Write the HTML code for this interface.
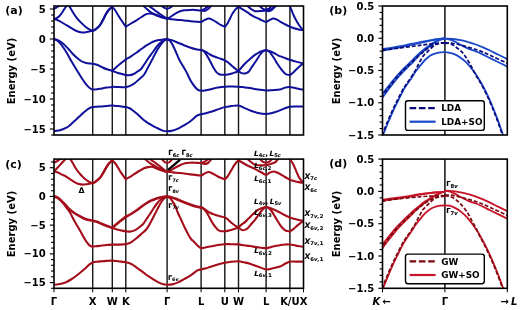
<!DOCTYPE html>
<html><head><meta charset="utf-8"><title>Band structure</title>
<style>html,body{margin:0;padding:0;background:#fff;}svg{display:block;filter:blur(0.35px);}text{font-family:'DejaVu Sans','Liberation Sans',sans-serif;font-weight:bold;fill:#000;}.an{stroke:#000;stroke-width:0.08px;}</style>
</head><body>
<svg width="520" height="310" viewBox="0 0 520 310">
<rect x="0" y="0" width="520" height="310" fill="#fff"/>
<defs>
<clipPath id="ca"><rect x="54" y="6" width="249.5" height="129"/></clipPath>
<clipPath id="cc"><rect x="54" y="159.1" width="249.5" height="129.2"/></clipPath>
<clipPath id="cb"><rect x="382.5" y="6" width="124.8" height="129"/></clipPath>
<clipPath id="cd"><rect x="382.5" y="159.1" width="124.8" height="129.2"/></clipPath>
</defs>
<line x1="92.7" y1="6" x2="92.7" y2="135" stroke="#1a1a1a" stroke-width="1.45"/>
<line x1="92.7" y1="159.1" x2="92.7" y2="288.3" stroke="#1a1a1a" stroke-width="1.45"/>
<line x1="112.3" y1="6" x2="112.3" y2="135" stroke="#1a1a1a" stroke-width="1.45"/>
<line x1="112.3" y1="159.1" x2="112.3" y2="288.3" stroke="#1a1a1a" stroke-width="1.45"/>
<line x1="125.8" y1="6" x2="125.8" y2="135" stroke="#1a1a1a" stroke-width="1.45"/>
<line x1="125.8" y1="159.1" x2="125.8" y2="288.3" stroke="#1a1a1a" stroke-width="1.45"/>
<line x1="167.1" y1="6" x2="167.1" y2="135" stroke="#1a1a1a" stroke-width="1.45"/>
<line x1="167.1" y1="159.1" x2="167.1" y2="288.3" stroke="#1a1a1a" stroke-width="1.45"/>
<line x1="201.1" y1="6" x2="201.1" y2="135" stroke="#1a1a1a" stroke-width="1.45"/>
<line x1="201.1" y1="159.1" x2="201.1" y2="288.3" stroke="#1a1a1a" stroke-width="1.45"/>
<line x1="224.8" y1="6" x2="224.8" y2="135" stroke="#1a1a1a" stroke-width="1.45"/>
<line x1="224.8" y1="159.1" x2="224.8" y2="288.3" stroke="#1a1a1a" stroke-width="1.45"/>
<line x1="238.5" y1="6" x2="238.5" y2="135" stroke="#1a1a1a" stroke-width="1.45"/>
<line x1="238.5" y1="159.1" x2="238.5" y2="288.3" stroke="#1a1a1a" stroke-width="1.45"/>
<line x1="266.1" y1="6" x2="266.1" y2="135" stroke="#1a1a1a" stroke-width="1.45"/>
<line x1="266.1" y1="159.1" x2="266.1" y2="288.3" stroke="#1a1a1a" stroke-width="1.45"/>
<line x1="289.9" y1="6" x2="289.9" y2="135" stroke="#1a1a1a" stroke-width="1.45"/>
<line x1="289.9" y1="159.1" x2="289.9" y2="288.3" stroke="#1a1a1a" stroke-width="1.45"/>
<line x1="444.9" y1="6" x2="444.9" y2="135" stroke="#111" stroke-width="1.5"/>
<line x1="444.9" y1="159.1" x2="444.9" y2="288.3" stroke="#111" stroke-width="1.5"/>
<g clip-path="url(#ca)" fill="none" stroke-linejoin="round" stroke-linecap="round">
<path d="M53.9 131C55.93 131 57.9 130.75 60 130.2C62.1 129.65 64.67 128.7 66.5 127.7C68.33 126.7 69.38 125.57 71 124.2C72.62 122.83 74.53 121.03 76.2 119.5C77.87 117.97 79.4 116.45 81 115C82.6 113.55 84.38 111.93 85.8 110.8C87.22 109.67 88.35 108.82 89.5 108.2C90.65 107.58 91.45 107.35 92.7 107.1C93.95 106.85 95.45 106.82 97 106.7C98.55 106.58 100.33 106.52 102 106.4C103.67 106.28 105.28 106.13 107 106C108.72 105.87 110.47 105.58 112.3 105.6C114.13 105.62 115.75 105.87 118 106.1C120.25 106.33 123.2 106.7 125.8 107" stroke="#10109a" stroke-width="2.0"/>
<path d="M125.8 107C126.87 107.33 127.97 107.55 129 108C130.03 108.45 130.67 108.73 132 109.7C133.33 110.67 135.33 112.35 137 113.8C138.67 115.25 140.5 117.1 142 118.4C143.5 119.7 144.67 120.63 146 121.6C147.33 122.57 148.67 123.37 150 124.2C151.33 125.03 152.67 125.88 154 126.6C155.33 127.32 156.58 127.83 158 128.5C159.42 129.17 160.98 130.13 162.5 130.6C164.02 131.07 165.52 131.27 167.1 131.3C168.68 131.33 170.18 131.23 172 130.8C173.82 130.37 176 129.62 178 128.7C180 127.78 182 126.5 184 125.3C186 124.1 187.83 123.1 190 121.5C192.17 119.9 195.15 116.9 197 115.7C198.85 114.5 199.6 114.72 201.1 114.3C202.6 113.88 204.18 113.67 206 113.2C207.82 112.73 210 112.13 212 111.5C214 110.87 215.87 110.13 218 109.4C220.13 108.67 222.63 107.65 224.8 107.1C226.97 106.55 228.72 106.37 231 106.1C233.28 105.83 236.33 105.22 238.5 105.5C240.67 105.78 242.08 106.98 244 107.8C245.92 108.62 247.67 109.53 250 110.4C252.33 111.27 255.32 112.4 258 113C260.68 113.6 263.77 114 266.1 114C268.43 114 270.02 113.48 272 113C273.98 112.52 276 111.83 278 111.1C280 110.37 282.02 109.33 284 108.6C285.98 107.87 287.9 107.07 289.9 106.7C291.9 106.33 293.73 106.45 296 106.4C298.27 106.35 301 106.4 303.5 106.4" stroke="#10109a" stroke-width="2.0"/>
<path d="M53.9 39.3C54.93 39.3 55.98 39.85 57 40.5C58.02 41.15 58.83 41.87 60 43.2C61.17 44.53 62.67 46.53 64 48.5C65.33 50.47 66.78 52.9 68 55C69.22 57.1 69.8 58.52 71.3 61.1C72.8 63.68 75.05 67.35 77 70.5C78.95 73.65 81.37 77.55 83 80C84.63 82.45 85.63 83.82 86.8 85.2C87.97 86.58 89.02 87.58 90 88.3C90.98 89.02 91.53 89.33 92.7 89.5C93.87 89.67 95.45 89.48 97 89.3C98.55 89.12 100.33 88.68 102 88.4C103.67 88.12 105.28 87.85 107 87.6C108.72 87.35 110.47 87 112.3 86.9C114.13 86.8 115.75 86.95 118 87C120.25 87.05 123.2 87.13 125.8 87.2" stroke="#10109a" stroke-width="2.0"/>
<path d="M125.8 87.2C127.2 86.73 128.53 86.47 130 85.8C131.47 85.13 133.02 84.33 134.6 83.2C136.18 82.07 137.9 80.45 139.5 79C141.1 77.55 142.67 76.67 144.2 74.5C145.73 72.33 147.32 68.58 148.7 66C150.08 63.42 151.22 61.42 152.5 59C153.78 56.58 155.23 53.58 156.4 51.5C157.57 49.42 158.53 47.95 159.5 46.5C160.47 45.05 161.28 43.88 162.2 42.8C163.12 41.72 164.18 40.58 165 40C165.82 39.42 166.4 39.3 167.1 39.3" stroke="#10109a" stroke-width="2.0"/>
<path d="M167.1 39.3C167.9 39.3 168.68 39.77 169.5 40.5C170.32 41.23 171 41.95 172 43.7C173 45.45 174.27 48.28 175.5 51C176.73 53.72 178.15 57.5 179.4 60C180.65 62.5 181.87 64.07 183 66C184.13 67.93 184.87 69.05 186.2 71.6C187.53 74.15 189.53 78.73 191 81.3C192.47 83.87 193.83 85.58 195 87C196.17 88.42 196.98 89.17 198 89.8C199.02 90.43 199.77 90.72 201.1 90.8C202.43 90.88 204.18 90.62 206 90.3C207.82 89.98 210 89.35 212 88.9C214 88.45 215.87 87.97 218 87.6C220.13 87.23 222.63 86.87 224.8 86.7C226.97 86.53 228.72 86.6 231 86.6C233.28 86.6 236.33 86.58 238.5 86.7C240.67 86.82 242.08 87.07 244 87.3C245.92 87.53 247.67 87.72 250 88.1C252.33 88.48 255.32 89.2 258 89.6C260.68 90 263.77 90.4 266.1 90.5C268.43 90.6 269.68 90.35 272 90.2C274.32 90.05 277.8 90.03 280 89.6C282.2 89.17 283.55 88.02 285.2 87.6C286.85 87.18 288.1 87 289.9 87.1C291.7 87.2 293.73 87.78 296 88.2C298.27 88.62 301 89.6 303.5 89.6" stroke="#10109a" stroke-width="2.0"/>
<path d="M53.9 39.3C55.27 39.3 56.48 39.5 58 40.2C59.52 40.9 61.33 42.12 63 43.5C64.67 44.88 66.5 46.92 68 48.5C69.5 50.08 70.63 51.55 72 53C73.37 54.45 74.7 55.87 76.2 57.2C77.7 58.53 79.37 60.03 81 61C82.63 61.97 84.05 62.55 86 63C87.95 63.45 90.87 63.4 92.7 63.7C94.53 64 95.45 64.22 97 64.8C98.55 65.38 100.33 66.45 102 67.2C103.67 67.95 105.28 68.7 107 69.3C108.72 69.9 110.53 70.3 112.3 70.8" stroke="#10109a" stroke-width="2.0"/>
<path d="M112.3 70.8C113.53 69.7 114.72 68.63 116 67.5C117.28 66.37 118.37 65.35 120 64C121.63 62.65 123.87 60.93 125.8 59.4" stroke="#10109a" stroke-width="2.0"/>
<path d="M125.8 59.4C127.53 58.37 129.3 57.37 131 56.3C132.7 55.23 134.33 54.17 136 53C137.67 51.83 139.33 50.53 141 49.3C142.67 48.07 144.5 46.6 146 45.6C147.5 44.6 148.5 44.07 150 43.3C151.5 42.53 153.33 41.57 155 41C156.67 40.43 158.58 40.17 160 39.9C161.42 39.63 162.32 39.5 163.5 39.4C164.68 39.3 165.68 39.15 167.1 39.3C168.52 39.45 170.18 39.73 172 40.3C173.82 40.87 176 41.88 178 42.7C180 43.52 182 44.4 184 45.2C186 46 188 46.82 190 47.5C192 48.18 194.15 48.9 196 49.3C197.85 49.7 199.4 49.9 201.1 49.9" stroke="#10109a" stroke-width="2.0"/>
<path d="M112.3 70.8C114.2 71.53 115.75 72.3 118 73C120.25 73.7 123.2 74.33 125.8 75" stroke="#10109a" stroke-width="2.0"/>
<path d="M125.8 75C127.03 75.1 128.2 75.47 129.5 75.3C130.8 75.13 132.27 74.63 133.6 74C134.93 73.37 136.22 72.38 137.5 71.5C138.78 70.62 140.13 69.95 141.3 68.7C142.47 67.45 143.37 65.7 144.5 64C145.63 62.3 146.77 60.42 148.1 58.5C149.43 56.58 151.1 54.42 152.5 52.5C153.9 50.58 155.2 48.62 156.5 47C157.8 45.38 159.05 43.92 160.3 42.8C161.55 41.68 162.87 40.88 164 40.3C165.13 39.72 166.07 39.3 167.1 39.3" stroke="#10109a" stroke-width="2.0"/>
<path d="M201.1 49.9C202.73 49.9 204.52 51.23 206 52C207.48 52.77 208.5 53.7 210 54.5C211.5 55.3 213.33 56.13 215 56.8C216.67 57.47 218.37 57.92 220 58.5C221.63 59.08 223.38 59.58 224.8 60.3C226.22 61.02 227.3 61.85 228.5 62.8C229.7 63.75 230.83 65 232 66C233.17 67 234.42 67.93 235.5 68.8C236.58 69.67 237.5 70.4 238.5 71.2" stroke="#10109a" stroke-width="2.0"/>
<path d="M201.1 49.9C202.07 49.9 203.02 50.25 204 51.2C204.98 52.15 206.08 54.13 207 55.6C207.92 57.07 208.67 58.45 209.5 60C210.33 61.55 211.25 63.47 212 64.9C212.75 66.33 213.33 67.48 214 68.6C214.67 69.72 215.33 70.78 216 71.6C216.67 72.42 217.33 73 218 73.5C218.67 74 218.87 74.38 220 74.6C221.13 74.82 223.47 74.83 224.8 74.8C226.13 74.77 226.8 74.62 228 74.4C229.2 74.18 230.75 73.85 232 73.5C233.25 73.15 234.42 72.68 235.5 72.3C236.58 71.92 237.5 71.57 238.5 71.2" stroke="#10109a" stroke-width="2.0"/>
<path d="M238.5 71.2C239.33 70.13 239.92 69.28 241 68C242.08 66.72 243.5 65 245 63.5C246.5 62 248.5 60.32 250 59C251.5 57.68 252.78 56.52 254 55.6C255.22 54.68 256.13 54.18 257.3 53.5C258.47 52.82 259.53 52.05 261 51.5C262.47 50.95 264.6 50.23 266.1 50.2C267.6 50.17 268.57 50.75 270 51.3C271.43 51.85 273.37 52.83 274.7 53.5C276.03 54.17 276.45 54.62 278 55.3C279.55 55.98 282.02 56.85 284 57.6C285.98 58.35 287.9 59.13 289.9 59.8C291.9 60.47 293.73 61.03 296 61.6C298.27 62.17 301 63.2 303.5 63.2" stroke="#10109a" stroke-width="2.0"/>
<path d="M238.5 71.2C239.33 71.73 240.13 72.4 241 72.8C241.87 73.2 242.87 73.53 243.7 73.6C244.53 73.67 245.18 73.52 246 73.2C246.82 72.88 247.68 72.65 248.6 71.7C249.52 70.75 250.38 69.12 251.5 67.5C252.62 65.88 254.22 63.62 255.3 62C256.38 60.38 257.18 59.05 258 57.8C258.82 56.55 259.37 55.55 260.2 54.5C261.03 53.45 262.02 52.22 263 51.5C263.98 50.78 265.1 50.2 266.1 50.2C267.1 50.2 268.1 50.78 269 51.5C269.9 52.22 270.55 53.2 271.5 54.5C272.45 55.8 273.7 57.72 274.7 59.3C275.7 60.88 276.4 62.33 277.5 64C278.6 65.67 280.22 67.88 281.3 69.3C282.38 70.72 283.18 71.67 284 72.5C284.82 73.33 285.22 73.87 286.2 74.3C287.18 74.73 288.67 74.83 289.9 75.1" stroke="#10109a" stroke-width="2.0"/>
<path d="M289.9 75.1C290.93 74.33 291.98 73.68 293 72.8C294.02 71.92 294.92 70.85 296 69.8C297.08 68.75 298.25 67.6 299.5 66.5C300.75 65.4 302.17 64.3 303.5 63.2" stroke="#10109a" stroke-width="2.0"/>
<path d="M53.9 19C55.27 19 56.65 19.72 58 20.3C59.35 20.88 60.38 21.58 62 22.5C63.62 23.42 66.2 24.9 67.7 25.8C69.2 26.7 69.87 27.2 71 27.9C72.13 28.6 73.25 29.37 74.5 30C75.75 30.63 77.2 31.28 78.5 31.7C79.8 32.12 81.05 32.42 82.3 32.5C83.55 32.58 84.88 32.37 86 32.2C87.12 32.03 87.88 31.73 89 31.5C90.12 31.27 91.47 30.8 92.7 30.8" stroke="#10109a" stroke-width="2.0"/>
<path d="M53.9 19C54.77 19 55.57 18.7 56.5 18.2C57.43 17.7 58.5 17.03 59.5 16C60.5 14.97 61.67 13.2 62.5 12C63.33 10.8 63.87 9.8 64.5 8.8C65.13 7.8 65.7 6.93 66.3 6" stroke="#10109a" stroke-width="2.0"/>
<path d="M69.2 6C70.33 7.9 71.38 9.77 72.6 11.7C73.82 13.63 75.05 15.73 76.5 17.6C77.95 19.47 79.7 21.3 81.3 22.9C82.9 24.5 84.73 26.12 86.1 27.2C87.47 28.28 88.4 28.8 89.5 29.4C90.6 30 91.63 30.8 92.7 30.8" stroke="#10109a" stroke-width="2.0"/>
<path d="M92.7 30.8C93.8 30.8 94.83 29.72 96 28.8C97.17 27.88 98.62 26.68 99.7 25.3C100.78 23.92 101.53 22.28 102.5 20.5C103.47 18.72 104.5 16.35 105.5 14.6C106.5 12.85 107.37 11.28 108.5 10C109.63 8.72 111.03 7.93 112.3 6.9" stroke="#10109a" stroke-width="2.0"/>
<path d="M92.7 30.8C93.97 30.8 95.23 29.87 96.5 28.9C97.77 27.93 99.18 26.52 100.3 25C101.42 23.48 102.22 21.63 103.2 19.8C104.18 17.97 105.2 15.7 106.2 14C107.2 12.3 108.18 10.78 109.2 9.6C110.22 8.42 111.27 7.8 112.3 6.9" stroke="#10109a" stroke-width="2.0"/>
<path d="M112.3 6.9C113.2 7.93 114.05 8.65 115 10C115.95 11.35 116.92 13.25 118 15C119.08 16.75 120.2 18.55 121.5 20.5C122.8 22.45 124.37 24.63 125.8 26.7" stroke="#10109a" stroke-width="2.0"/>
<path d="M125.8 26.7C127.53 25.63 129.22 24.55 131 23.5C132.78 22.45 134.75 21.48 136.5 20.4C138.25 19.32 139.88 18.03 141.5 17C143.12 15.97 144.93 14.77 146.2 14.2C147.47 13.63 148.13 13.67 149.1 13.6C150.07 13.53 150.85 13.53 152 13.8C153.15 14.07 154.5 14.63 156 15.2C157.5 15.77 159.15 16.65 161 17.2C162.85 17.75 165.07 18.5 167.1 18.5" stroke="#10109a" stroke-width="2.0"/>
<path d="M143.8 6C144.87 7.07 145.88 8.2 147 9.2C148.12 10.2 149.17 11.15 150.5 12C151.83 12.85 153.42 13.57 155 14.3C156.58 15.03 157.98 15.7 160 16.4C162.02 17.1 164.73 18.5 167.1 18.5" stroke="#10109a" stroke-width="2.0"/>
<path d="M149 6C150.17 6.83 151.25 7.58 152.5 8.5C153.75 9.42 155.08 10.45 156.5 11.5C157.92 12.55 159.67 13.88 161 14.8C162.33 15.72 163.48 16.38 164.5 17C165.52 17.62 166.23 18.5 167.1 18.5" stroke="#10109a" stroke-width="2.0"/>
<path d="M167.1 18.5C168.4 18.5 169.68 17.28 171 16.5C172.32 15.72 173.58 14.63 175 13.8C176.42 12.97 177.97 12.08 179.5 11.5C181.03 10.92 182.45 10.57 184.2 10.3C185.95 10.03 188.2 9.97 190 9.9C191.8 9.83 193.15 9.82 195 9.9C196.85 9.98 199.6 10.52 201.1 10.4C202.6 10.28 203.02 9.73 204 9.2C204.98 8.67 206.03 7.8 207 7.2C207.97 6.6 208.87 6.13 209.8 5.6" stroke="#10109a" stroke-width="2.0"/>
<path d="M201.1 10.4C201.73 10.4 202.35 10.72 203 10.8C203.65 10.88 204.25 11.12 205 10.9C205.75 10.68 206.75 10.02 207.5 9.5C208.25 8.98 208.83 8.45 209.5 7.8C210.17 7.15 210.83 6.33 211.5 5.6" stroke="#10109a" stroke-width="2.0"/>
<path d="M167.1 18.5C168.73 18.5 170.18 19.07 172 19.3C173.82 19.53 175.97 19.72 178 19.9C180.03 20.08 182.2 20.2 184.2 20.4C186.2 20.6 188.03 20.88 190 21.1C191.97 21.32 194.15 21.57 196 21.7C197.85 21.83 199.68 22.15 201.1 21.9C202.52 21.65 203.25 20.75 204.5 20.2C205.75 19.65 207.27 18.67 208.6 18.6C209.93 18.53 211.18 19.2 212.5 19.8C213.82 20.4 215.17 21.37 216.5 22.2C217.83 23.03 219.12 24.05 220.5 24.8C221.88 25.55 223.37 26.07 224.8 26.7" stroke="#10109a" stroke-width="2.0"/>
<path d="M224.8 26.7C225.7 25.63 226.63 24.87 227.5 23.5C228.37 22.13 229.17 20.17 230 18.5C230.83 16.83 231.58 15.03 232.5 13.5C233.42 11.97 234.5 10.4 235.5 9.3C236.5 8.2 237.5 7.7 238.5 6.9" stroke="#10109a" stroke-width="2.0"/>
<path d="M238.5 6.9C239.33 7.37 240 7.7 241 8.3C242 8.9 243.33 9.77 244.5 10.5C245.67 11.23 247 12.02 248 12.7C249 13.38 249.5 13.95 250.5 14.6C251.5 15.25 252.75 15.97 254 16.6C255.25 17.23 256.67 17.77 258 18.4C259.33 19.03 260.65 19.82 262 20.4C263.35 20.98 264.85 21.95 266.1 21.9C267.35 21.85 268.27 20.67 269.5 20.1C270.73 19.53 272.25 18.57 273.5 18.5C274.75 18.43 275.75 19.1 277 19.7C278.25 20.3 279.58 21.3 281 22.1C282.42 22.9 284.02 23.73 285.5 24.5C286.98 25.27 288.43 25.97 289.9 26.7" stroke="#10109a" stroke-width="2.0"/>
<path d="M289.9 26.7C291.27 27.2 292.65 27.77 294 28.2C295.35 28.63 296.42 28.98 298 29.3C299.58 29.62 301.67 30.1 303.5 30.1" stroke="#10109a" stroke-width="2.0"/>
<path d="M247 5.6C248.17 6.6 249.17 7.67 250.5 8.6C251.83 9.53 253.42 10.8 255 11.2C256.58 11.6 258.15 11.1 260 11C261.85 10.9 264.27 10.85 266.1 10.6C267.93 10.35 269.68 10.1 271 9.5C272.32 8.9 273.23 7.65 274 7C274.77 6.35 275.07 6.07 275.6 5.6" stroke="#10109a" stroke-width="2.0"/>
<path d="M266.1 10.6C267.03 10.8 268 11.27 268.9 11.2C269.8 11.13 270.75 10.68 271.5 10.2C272.25 9.72 272.6 9.07 273.4 8.3C274.2 7.53 275.33 6.5 276.3 5.6" stroke="#10109a" stroke-width="2.0"/>
<path d="M259.2 5.6C259.8 6.17 260.37 6.77 261 7.3C261.63 7.83 262.15 8.45 263 8.8C263.85 9.15 265.12 9.43 266.1 9.4C267.08 9.37 268.17 8.93 268.9 8.6C269.63 8.27 269.98 7.9 270.5 7.4C271.02 6.9 271.5 6.2 272 5.6" stroke="#10109a" stroke-width="2.0"/>
<path d="M161.5 5.6C162.17 6.17 162.83 6.83 163.5 7.3C164.17 7.77 164.9 8.17 165.5 8.4C166.1 8.63 166.57 8.7 167.1 8.7C167.63 8.7 168.1 8.63 168.7 8.4C169.3 8.17 170.03 7.77 170.7 7.3C171.37 6.83 172.03 6.17 172.7 5.6" stroke="#10109a" stroke-width="2.0"/>
<path d="M53.9 8.4C54.77 8.4 55.57 8.07 56.5 7.6C57.43 7.13 58.5 6.27 59.5 5.6" stroke="#10109a" stroke-width="2.0"/>
<path d="M289.9 6.2C290.43 7.47 290.9 8.53 291.5 10C292.1 11.47 292.75 13.33 293.5 15C294.25 16.67 295.08 18.33 296 20C296.92 21.67 298.08 23.62 299 25C299.92 26.38 300.75 27.45 301.5 28.3C302.25 29.15 302.83 30.1 303.5 30.1" stroke="#10109a" stroke-width="2.0"/>
</g>
<g clip-path="url(#cc)" fill="none" stroke-linejoin="round" stroke-linecap="round">
<path d="M53.9 284.7C55.93 284.7 57.98 284.42 60 284C62.02 283.58 64.17 282.95 66 282.2C67.83 281.45 69.33 280.53 71 279.5C72.67 278.47 74.33 277.25 76 276C77.67 274.75 79.33 273.38 81 272C82.67 270.62 84.58 268.98 86 267.7C87.42 266.42 88.38 265.18 89.5 264.3C90.62 263.42 91.45 262.83 92.7 262.4C93.95 261.97 95.45 261.88 97 261.7C98.55 261.52 100.33 261.43 102 261.3C103.67 261.17 105.28 261.02 107 260.9C108.72 260.78 110.47 260.55 112.3 260.6C114.13 260.65 115.75 260.93 118 261.2C120.25 261.47 123.2 261.87 125.8 262.2" stroke="#a40d1a" stroke-width="2.1"/>
<path d="M125.8 262.2C126.87 262.47 127.97 262.65 129 263C130.03 263.35 130.67 263.5 132 264.3C133.33 265.1 135.33 266.62 137 267.8C138.67 268.98 140.5 270.28 142 271.4C143.5 272.52 144.67 273.53 146 274.5C147.33 275.47 148.67 276.32 150 277.2C151.33 278.08 152.67 278.98 154 279.8C155.33 280.62 156.58 281.4 158 282.1C159.42 282.8 160.98 283.55 162.5 284C164.02 284.45 165.52 284.73 167.1 284.8C168.68 284.87 170.18 284.8 172 284.4C173.82 284 176 283.27 178 282.4C180 281.53 182 280.28 184 279.2C186 278.12 187.83 277.32 190 275.9C192.17 274.48 195.15 271.78 197 270.7C198.85 269.62 199.6 269.8 201.1 269.4C202.6 269 204.52 268.72 206 268.3C207.48 267.88 208.17 267.48 210 266.9C211.83 266.32 214.53 265.48 217 264.8C219.47 264.12 222.47 263.32 224.8 262.8C227.13 262.28 228.72 261.97 231 261.7C233.28 261.43 236.33 261.1 238.5 261.2C240.67 261.3 242.08 261.88 244 262.3C245.92 262.72 247.67 262.98 250 263.7C252.33 264.42 255.32 265.65 258 266.6C260.68 267.55 263.77 269.08 266.1 269.4C268.43 269.72 269.68 268.97 272 268.5C274.32 268.03 277.83 267.38 280 266.6C282.17 265.82 283.35 264.62 285 263.8C286.65 262.98 288.07 262.07 289.9 261.7C291.73 261.33 293.73 261.62 296 261.6C298.27 261.58 301 261.6 303.5 261.6" stroke="#a40d1a" stroke-width="2.1"/>
<path d="M53.9 196.6C54.93 196.6 55.98 196.97 57 197.5C58.02 198.03 59 198.88 60 199.8C61 200.72 62.17 202.05 63 203C63.83 203.95 64.25 204.5 65 205.5C65.75 206.5 66.67 207.82 67.5 209C68.33 210.18 68.75 210.43 70 212.6C71.25 214.77 73.33 219.03 75 222C76.67 224.97 78.33 227.48 80 230.4C81.67 233.32 83.67 237.27 85 239.5C86.33 241.73 87.08 242.72 88 243.8C88.92 244.88 89.72 245.53 90.5 246C91.28 246.47 91.62 246.58 92.7 246.6C93.78 246.62 95.45 246.28 97 246.1C98.55 245.92 100.33 245.68 102 245.5C103.67 245.32 105.28 245.15 107 245C108.72 244.85 110.47 244.67 112.3 244.6C114.13 244.53 115.75 244.67 118 244.6C120.25 244.53 123.2 244.33 125.8 244.2" stroke="#a40d1a" stroke-width="2.1"/>
<path d="M125.8 244.2C127.53 243.57 129.22 243.3 131 242.3C132.78 241.3 134.75 239.62 136.5 238.2C138.25 236.78 139.88 235.25 141.5 233.8C143.12 232.35 144.78 231.22 146.2 229.5C147.62 227.78 148.55 226.08 150 223.5C151.45 220.92 153.48 216.75 154.9 214C156.32 211.25 157.32 209.17 158.5 207C159.68 204.83 160.92 202.53 162 201C163.08 199.47 164.15 198.53 165 197.8C165.85 197.07 166.4 196.6 167.1 196.6" stroke="#a40d1a" stroke-width="2.1"/>
<path d="M167.1 196.6C167.9 196.6 168.68 197.13 169.5 197.8C170.32 198.47 171.08 199.32 172 200.6C172.92 201.88 174 203.43 175 205.5C176 207.57 176.92 210.5 178 213C179.08 215.5 180.3 217.92 181.5 220.5C182.7 223.08 183.93 225.92 185.2 228.5C186.47 231.08 188.05 234.17 189.1 236C190.15 237.83 190.7 238.53 191.5 239.5C192.3 240.47 192.9 240.8 193.9 241.8C194.9 242.8 196.3 244.45 197.5 245.5C198.7 246.55 199.68 247.8 201.1 248.1C202.52 248.4 204.18 247.62 206 247.3C207.82 246.98 210 246.58 212 246.2C214 245.82 215.87 245.33 218 245C220.13 244.67 222.63 244.33 224.8 244.2C226.97 244.07 228.72 244.17 231 244.2C233.28 244.23 236.33 244.22 238.5 244.4C240.67 244.58 242.08 245.03 244 245.3C245.92 245.57 247.67 245.65 250 246C252.33 246.35 255.32 247.05 258 247.4C260.68 247.75 263.6 248.25 266.1 248.1C268.6 247.95 270.68 246.98 273 246.5C275.32 246.02 278 245.53 280 245.2C282 244.87 283.35 244.62 285 244.5C286.65 244.38 288.07 244.32 289.9 244.5C291.73 244.68 293.73 245.23 296 245.6C298.27 245.97 301 246.7 303.5 246.7" stroke="#a40d1a" stroke-width="2.1"/>
<path d="M53.9 196.6C54.93 196.6 55.98 196.72 57 197.2C58.02 197.68 58.67 198.28 60 199.5C61.33 200.72 63.33 202.78 65 204.5C66.67 206.22 68.33 208.3 70 209.8C71.67 211.3 73.33 212.42 75 213.5C76.67 214.58 78.17 215.33 80 216.3C81.83 217.27 83.88 218.57 86 219.3C88.12 220.03 90.87 220.28 92.7 220.7C94.53 221.12 95.45 221.25 97 221.8C98.55 222.35 100.33 223.3 102 224C103.67 224.7 105.28 225.35 107 226C108.72 226.65 110.53 227.27 112.3 227.9" stroke="#a40d1a" stroke-width="2.6"/>
<path d="M112.3 227.9C113.53 226.8 114.72 225.72 116 224.6C117.28 223.48 118.37 222.48 120 221.2C121.63 219.92 123.87 218.33 125.8 216.9" stroke="#a40d1a" stroke-width="2.6"/>
<path d="M125.8 216.9C127.53 215.93 129.3 215.02 131 214C132.7 212.98 134.33 211.97 136 210.8C137.67 209.63 139.33 208.22 141 207C142.67 205.78 144.33 204.55 146 203.5C147.67 202.45 149.33 201.5 151 200.7C152.67 199.9 154.25 199.28 156 198.7C157.75 198.12 159.65 197.55 161.5 197.2C163.35 196.85 165.35 196.57 167.1 196.6C168.85 196.63 170.18 196.88 172 197.4C173.82 197.92 176 198.9 178 199.7C180 200.5 182 201.4 184 202.2C186 203 188 203.78 190 204.5C192 205.22 194.15 206.02 196 206.5C197.85 206.98 199.4 207.4 201.1 207.4" stroke="#a40d1a" stroke-width="2.6"/>
<path d="M112.3 227.9C114.2 228.53 115.75 229.22 118 229.8C120.25 230.38 123.2 230.87 125.8 231.4" stroke="#a40d1a" stroke-width="2.1"/>
<path d="M125.8 231.4C127.2 231.47 128.53 231.77 130 231.6C131.47 231.43 133.1 231.08 134.6 230.4C136.1 229.72 137.55 228.62 139 227.5C140.45 226.38 142.05 225.12 143.3 223.7C144.55 222.28 145.38 220.62 146.5 219C147.62 217.38 148.83 215.75 150 214C151.17 212.25 152.33 210.25 153.5 208.5C154.67 206.75 155.83 204.95 157 203.5C158.17 202.05 159.33 200.82 160.5 199.8C161.67 198.78 162.9 197.93 164 197.4C165.1 196.87 166.07 196.6 167.1 196.6" stroke="#a40d1a" stroke-width="2.1"/>
<path d="M201.1 207.4C202.4 207.4 203.52 208.6 205 209.5C206.48 210.4 208.33 211.92 210 212.8C211.67 213.68 213.33 214.22 215 214.8C216.67 215.38 218.37 215.87 220 216.3C221.63 216.73 223.38 216.78 224.8 217.4C226.22 218.02 227.3 219.02 228.5 220C229.7 220.98 230.83 222.33 232 223.3C233.17 224.27 234.42 225.08 235.5 225.8C236.58 226.52 237.5 227 238.5 227.6" stroke="#a40d1a" stroke-width="2.1"/>
<path d="M201.1 207.4C202.07 207.4 203.02 208.3 204 209.2C204.98 210.1 206.08 211.42 207 212.8C207.92 214.18 208.67 215.95 209.5 217.5C210.33 219.05 211.08 220.6 212 222.1C212.92 223.6 214 225.18 215 226.5C216 227.82 217 229.22 218 230C219 230.78 219.87 231 221 231.2C222.13 231.4 223.55 231.3 224.8 231.2C226.05 231.1 227.3 230.85 228.5 230.6C229.7 230.35 230.83 230.03 232 229.7C233.17 229.37 234.42 228.95 235.5 228.6C236.58 228.25 237.5 227.93 238.5 227.6" stroke="#a40d1a" stroke-width="2.1"/>
<path d="M238.5 227.6C239.5 226.6 240.42 225.52 241.5 224.6C242.58 223.68 243.83 223.1 245 222.1C246.17 221.1 247.33 219.77 248.5 218.6C249.67 217.43 250.92 216.15 252 215.1C253.08 214.05 254 213.17 255 212.3C256 211.43 256.83 210.62 258 209.9C259.17 209.18 260.65 208.48 262 208C263.35 207.52 264.77 207 266.1 207C267.43 207 268.35 207.42 270 208C271.65 208.58 274.33 209.75 276 210.5C277.67 211.25 278.67 211.78 280 212.5C281.33 213.22 282.35 213.98 284 214.8C285.65 215.62 287.9 216.65 289.9 217.4C291.9 218.15 293.73 218.72 296 219.3C298.27 219.88 301 220.9 303.5 220.9" stroke="#a40d1a" stroke-width="2.1"/>
<path d="M238.5 227.6C239.33 228.2 240.25 228.97 241 229.4C241.75 229.83 242.25 230.17 243 230.2C243.75 230.23 244.67 229.98 245.5 229.6C246.33 229.22 247 228.87 248 227.9C249 226.93 250.33 225.15 251.5 223.8C252.67 222.45 254 221.05 255 219.8C256 218.55 256.67 217.47 257.5 216.3C258.33 215.13 259.08 213.97 260 212.8C260.92 211.63 261.98 210.27 263 209.3C264.02 208.33 265.1 207.13 266.1 207C267.1 206.87 268.1 207.83 269 208.5C269.9 209.17 270.67 209.92 271.5 211C272.33 212.08 273.08 213.5 274 215C274.92 216.5 276 218.37 277 220C278 221.63 279 223.37 280 224.8C281 226.23 282 227.6 283 228.6C284 229.6 284.85 230.33 286 230.8C287.15 231.27 288.6 231.2 289.9 231.4" stroke="#a40d1a" stroke-width="2.1"/>
<path d="M289.9 231.4C290.93 230.7 291.98 230.08 293 229.3C294.02 228.52 294.92 227.62 296 226.7C297.08 225.78 298.25 224.77 299.5 223.8C300.75 222.83 302.17 221.87 303.5 220.9" stroke="#a40d1a" stroke-width="2.1"/>
<path d="M53.9 171.5C55.27 171.5 56.65 172.08 58 172.6C59.35 173.12 60.58 173.9 62 174.6C63.42 175.3 65 175.93 66.5 176.8C68 177.67 69.58 178.88 71 179.8C72.42 180.72 73.67 181.58 75 182.3C76.33 183.02 77.75 183.72 79 184.1C80.25 184.48 81.33 184.57 82.5 184.6C83.67 184.63 84.83 184.47 86 184.3C87.17 184.13 88.38 183.8 89.5 183.6C90.62 183.4 91.63 183.1 92.7 183.1" stroke="#a40d1a" stroke-width="2.1"/>
<path d="M53.9 171.5C54.77 171.5 55.53 169.83 56.5 168.8C57.47 167.77 58.7 166.4 59.7 165.3C60.7 164.2 61.53 163.23 62.5 162.2C63.47 161.17 64.5 160.13 65.5 159.1" stroke="#a40d1a" stroke-width="2.1"/>
<path d="M70.4 159.1C71.27 160.57 71.98 161.77 73 163.5C74.02 165.23 75.25 167.67 76.5 169.5C77.75 171.33 79.17 173 80.5 174.5C81.83 176 83.17 177.33 84.5 178.5C85.83 179.67 87.13 180.73 88.5 181.5C89.87 182.27 91.3 183.1 92.7 183.1" stroke="#a40d1a" stroke-width="2.1"/>
<path d="M53.9 162.5C54.93 162.5 55.98 161.77 57 161.2C58.02 160.63 59 159.8 60 159.1" stroke="#a40d1a" stroke-width="2.1"/>
<path d="M92.7 183.1C93.8 183.1 94.78 181.88 96 181C97.22 180.12 98.83 179.13 100 177.8C101.17 176.47 102 174.7 103 173C104 171.3 105 169.22 106 167.6C107 165.98 107.95 164.5 109 163.3C110.05 162.1 111.2 161.37 112.3 160.4" stroke="#a40d1a" stroke-width="2.1"/>
<path d="M92.7 183.1C93.97 183.1 95.2 182.15 96.5 181.2C97.8 180.25 99.32 178.87 100.5 177.4C101.68 175.93 102.57 174.13 103.6 172.4C104.63 170.67 105.68 168.58 106.7 167C107.72 165.42 108.77 164 109.7 162.9C110.63 161.8 111.43 161.23 112.3 160.4" stroke="#a40d1a" stroke-width="2.1"/>
<path d="M112.3 160.4C113.2 161.27 114.05 161.8 115 163C115.95 164.2 116.92 165.88 118 167.6C119.08 169.32 120.2 171.37 121.5 173.3C122.8 175.23 124.37 177.23 125.8 179.2" stroke="#a40d1a" stroke-width="2.1"/>
<path d="M125.8 179.2C127.53 178.23 129.3 177.33 131 176.3C132.7 175.27 134.5 173.97 136 173C137.5 172.03 138.67 171.28 140 170.5C141.33 169.72 142.67 168.87 144 168.3C145.33 167.73 146.67 167.35 148 167.1C149.33 166.85 150.67 166.62 152 166.8C153.33 166.98 154.5 167.63 156 168.2C157.5 168.77 159.15 169.63 161 170.2C162.85 170.77 165.07 171.6 167.1 171.6" stroke="#a40d1a" stroke-width="2.1"/>
<path d="M145.2 159.1C146.3 160.07 147.37 161.1 148.5 162C149.63 162.9 150.67 163.67 152 164.5C153.33 165.33 154.92 166.17 156.5 167C158.08 167.83 159.73 168.73 161.5 169.5C163.27 170.27 165.23 171.6 167.1 171.6" stroke="#a40d1a" stroke-width="2.1"/>
<path d="M150 159.1C151.17 159.9 152.25 160.6 153.5 161.5C154.75 162.4 156.08 163.42 157.5 164.5C158.92 165.58 160.4 166.82 162 168C163.6 169.18 165.4 171.6 167.1 171.6" stroke="#a40d1a" stroke-width="2.1"/>
<path d="M162 159.1C162.83 160.07 163.65 161.38 164.5 162C165.35 162.62 166.23 162.8 167.1 162.8C167.97 162.8 168.88 162.62 169.7 162C170.52 161.38 171.23 160.07 172 159.1" stroke="#a40d1a" stroke-width="2.1"/>
<path d="M167.1 171.6C168.4 171.6 169.68 170.65 171 170C172.32 169.35 173.5 168.5 175 167.7C176.5 166.9 178.33 165.93 180 165.2C181.67 164.47 183.33 163.72 185 163.3C186.67 162.88 188.33 162.8 190 162.7C191.67 162.6 193.15 162.65 195 162.7C196.85 162.75 199.6 163.12 201.1 163C202.6 162.88 203.1 162.43 204 162C204.9 161.57 205.78 160.95 206.5 160.4C207.22 159.85 207.7 159.27 208.3 158.7" stroke="#a40d1a" stroke-width="2.1"/>
<path d="M201.1 163C201.73 163 202.35 163.43 203 163.6C203.65 163.77 204.17 164.1 205 164C205.83 163.9 207.17 163.53 208 163C208.83 162.47 209.45 161.52 210 160.8C210.55 160.08 210.87 159.4 211.3 158.7" stroke="#a40d1a" stroke-width="2.1"/>
<path d="M167.1 171.6C169.07 171.6 170.85 172.17 173 172.4C175.15 172.63 177.5 172.73 180 173C182.5 173.27 185.5 173.68 188 174C190.5 174.32 192.82 174.67 195 174.9C197.18 175.13 199.52 175.63 201.1 175.4C202.68 175.17 203.25 174.07 204.5 173.5C205.75 172.93 207.27 172 208.6 172C209.93 172 211.27 172.93 212.5 173.5C213.73 174.07 214.75 174.73 216 175.4C217.25 176.07 218.53 176.85 220 177.5C221.47 178.15 223.2 178.7 224.8 179.3" stroke="#a40d1a" stroke-width="2.1"/>
<path d="M224.8 179.3C225.7 178.37 226.63 177.63 227.5 176.5C228.37 175.37 229.25 173.75 230 172.5C230.75 171.25 231.33 170.13 232 169C232.67 167.87 233.28 166.78 234 165.7C234.72 164.62 235.55 163.38 236.3 162.5C237.05 161.62 237.77 161.1 238.5 160.4" stroke="#a40d1a" stroke-width="2.1"/>
<path d="M238.5 160.4C240 161.27 241.42 162.1 243 163C244.58 163.9 246.33 164.97 248 165.8C249.67 166.63 251.33 167.2 253 168C254.67 168.8 256.5 169.8 258 170.6C259.5 171.4 260.65 172.08 262 172.8C263.35 173.52 264.85 174.9 266.1 174.9C267.35 174.9 268.27 173.37 269.5 172.8C270.73 172.23 272.25 171.55 273.5 171.5C274.75 171.45 275.92 172.08 277 172.5C278.08 172.92 278.67 173.25 280 174C281.33 174.75 283.35 176.03 285 177C286.65 177.97 288.27 178.87 289.9 179.8" stroke="#a40d1a" stroke-width="2.1"/>
<path d="M289.9 179.8C291.27 180.2 292.65 180.63 294 181C295.35 181.37 296.42 181.72 298 182C299.58 182.28 301.67 182.7 303.5 182.7" stroke="#a40d1a" stroke-width="2.1"/>
<path d="M247.6 159.1C248.73 160.07 249.77 161.05 251 162C252.23 162.95 253.5 164.25 255 164.8C256.5 165.35 258.15 165.22 260 165.3C261.85 165.38 264.43 165.48 266.1 165.3C267.77 165.12 268.52 164.68 270 164.2C271.48 163.72 273.67 163.25 275 162.4C276.33 161.55 277 160.2 278 159.1" stroke="#a40d1a" stroke-width="2.1"/>
<path d="M260 159.1C261 160.03 261.98 161.28 263 161.9C264.02 162.52 265.1 162.8 266.1 162.8C267.1 162.8 268.02 162.52 269 161.9C269.98 161.28 271 160.03 272 159.1" stroke="#a40d1a" stroke-width="2.1"/>
<path d="M289.9 159.3C290.43 160.03 290.98 160.75 291.5 161.5C292.02 162.25 292.25 162.28 293 163.8C293.75 165.32 295 168.35 296 170.6C297 172.85 298.08 175.6 299 177.3C299.92 179 300.75 179.9 301.5 180.8C302.25 181.7 302.83 182.7 303.5 182.7" stroke="#a40d1a" stroke-width="2.1"/>
</g>
<g clip-path="url(#cb)" fill="none" stroke-linejoin="round">
<path d="M382.5 49.2C385.33 48.73 388.08 48.3 391 47.8C393.92 47.3 396.83 46.8 400 46.2C403.17 45.6 406.23 44.95 410 44.2C413.77 43.45 419.27 42.35 422.6 41.7C425.93 41.05 427.75 40.7 430 40.3C432.25 39.9 433.62 39.6 436.1 39.3C438.58 39 441.97 38.5 444.9 38.5" stroke="#1a48c8" stroke-width="1.8"/>
<path d="M382.5 50.6C385.33 50.07 388.08 49.55 391 49C393.92 48.45 396.83 47.97 400 47.3C403.17 46.63 406.23 45.83 410 45C413.77 44.17 419.27 43.02 422.6 42.3C425.93 41.58 427.75 41.17 430 40.7C432.25 40.23 433.62 39.87 436.1 39.5C438.58 39.13 441.97 38.5 444.9 38.5" stroke="#1a48c8" stroke-width="1.8"/>
<path d="M444.9 38.4C443.27 38.4 441.65 39.02 440 39.6C438.35 40.18 436.6 41.03 435 41.9C433.4 42.77 431.98 43.73 430.4 44.8C428.82 45.87 427.12 47.05 425.5 48.3C423.88 49.55 422.35 50.85 420.7 52.3C419.05 53.75 417.22 55.45 415.6 57C413.98 58.55 412.6 60.03 411 61.6C409.4 63.17 407.67 64.77 406 66.4C404.33 68.03 402.83 69.47 401 71.4C399.17 73.33 397 75.65 395 78C393 80.35 390.67 83.4 389 85.5C387.33 87.6 386.08 89.22 385 90.6C383.92 91.98 383.33 92.73 382.5 93.8" stroke="#1a48c8" stroke-width="1.8"/>
<path d="M444.9 38.4C443.27 38.4 441.65 39.3 440 40C438.35 40.7 436.6 41.63 435 42.6C433.4 43.57 431.98 44.63 430.4 45.8C428.82 46.97 426.98 48.4 425.5 49.6C424.02 50.8 422.83 51.8 421.5 53C420.17 54.2 418.83 55.37 417.5 56.8C416.17 58.23 415 60 413.5 61.6C412 63.2 410.17 64.77 408.5 66.4C406.83 68.03 405.33 69.47 403.5 71.4C401.67 73.33 399.5 75.65 397.5 78C395.5 80.35 393.17 83.4 391.5 85.5C389.83 87.6 389 88.58 387.5 90.6C386 92.62 384.17 95.27 382.5 97.6" stroke="#1a48c8" stroke-width="1.8"/>
<path d="M444.9 52.2C443.27 52.2 441.65 52.17 440 52.4C438.35 52.63 436.6 53.07 435 53.6C433.4 54.13 432.07 54.53 430.4 55.6C428.73 56.67 426.62 58.42 425 60C423.38 61.58 422.2 63.27 420.7 65.1C419.2 66.93 417.62 68.73 416 71C414.38 73.27 412.5 76.45 411 78.7C409.5 80.95 408.28 82.57 407 84.5C405.72 86.43 404.73 87.72 403.3 90.3C401.87 92.88 400.03 96.72 398.4 100C396.77 103.28 395.15 106.42 393.5 110C391.85 113.58 390.08 117.75 388.5 121.5C386.92 125.25 384.93 130.22 384 132.5C383.07 134.78 383.27 134.3 382.9 135.2" stroke="#1a48c8" stroke-width="1.8"/>
<path d="M444.9 38.6C447.53 38.6 450.2 38.73 452.8 39C455.4 39.27 457.92 39.68 460.5 40.2C463.08 40.72 465.72 41.38 468.3 42.1C470.88 42.82 473.55 43.63 476 44.5C478.45 45.37 480.67 46.3 483 47.3C485.33 48.3 487.5 49.3 490 50.5C492.5 51.7 495.12 53.07 498 54.5C500.88 55.93 504.2 57.57 507.3 59.1" stroke="#1a48c8" stroke-width="1.8"/>
<path d="M444.9 38.6C446.27 38.6 447.65 38.93 449 39.3C450.35 39.67 451.67 40.22 453 40.8C454.33 41.38 455.75 42.13 457 42.8C458.25 43.47 458.62 43.82 460.5 44.8C462.38 45.78 465.72 47.6 468.3 48.7C470.88 49.8 473.55 50.42 476 51.4C478.45 52.38 480.67 53.48 483 54.6C485.33 55.72 487.5 56.87 490 58.1C492.5 59.33 495.12 60.58 498 62C500.88 63.42 504.2 65.07 507.3 66.6" stroke="#1a48c8" stroke-width="1.8"/>
<path d="M444.9 52.2C446.23 52.2 447.57 52.31 448.9 52.55C450.23 52.78 451.57 53.13 452.9 53.6C454.23 54.07 455.57 54.66 456.9 55.38C458.23 56.1 459.57 56.94 460.9 57.91C462.23 58.88 463.57 59.97 464.9 61.2C466.23 62.43 467.57 63.79 468.9 65.28C470.23 66.78 471.57 68.41 472.9 70.17C474.23 71.94 475.57 73.85 476.9 75.89C478.23 77.94 479.57 80.13 480.9 82.46C482.23 84.8 483.57 87.27 484.9 89.9C486.23 92.53 487.57 95.3 488.9 98.23C490.23 101.16 491.57 104.24 492.9 107.47C494.23 110.71 495.57 114.09 496.9 117.64C498.23 121.19 499.73 125.41 500.9 128.76C502.07 132.11 502.9 134.75 503.9 137.74" stroke="#1a48c8" stroke-width="1.8"/>
<path d="M444.9 42.8C441.6 42.8 438.32 43.1 435 43.4C431.68 43.7 428.33 44.17 425 44.6C421.67 45.03 419.17 45.47 415 46C410.83 46.53 405.42 47.1 400 47.8C394.58 48.5 388.33 49.4 382.5 50.2" stroke="#0a0a7a" stroke-width="1.7" stroke-dasharray="4.0 1.9"/>
<path d="M444.9 42.8C443.27 42.8 441.65 43 440 43.3C438.35 43.6 436.67 44.02 435 44.6C433.33 45.18 431.42 46.03 430 46.8C428.58 47.57 427.67 48.33 426.5 49.2C425.33 50.07 424.17 51 423 52C421.83 53 421.28 53.6 419.5 55.2C417.72 56.8 414.33 59.73 412.3 61.6C410.27 63.47 408.97 64.77 407.3 66.4C405.63 68.03 404.13 69.47 402.3 71.4C400.47 73.33 398.3 75.65 396.3 78C394.3 80.35 391.97 83.4 390.3 85.5C388.63 87.6 387.6 88.85 386.3 90.6C385 92.35 383.77 94.2 382.5 96" stroke="#0a0a7a" stroke-width="1.7" stroke-dasharray="4.0 1.9"/>
<path d="M444.9 42.8C443.27 42.8 441.4 43.05 440 43.3C438.6 43.55 437.58 43.83 436.5 44.3C435.42 44.77 434.58 45.28 433.5 46.1C432.42 46.92 431.17 48.12 430 49.2C428.83 50.28 427.67 51.43 426.5 52.6C425.33 53.77 424 54.88 423 56.2C422 57.52 421.28 59.12 420.5 60.5C419.72 61.88 419.02 63.12 418.3 64.5C417.58 65.88 416.88 67.47 416.2 68.8C415.52 70.13 415.22 70.85 414.2 72.5C413.18 74.15 411.45 76.7 410.1 78.7C408.75 80.7 407.38 82.57 406.1 84.5C404.82 86.43 403.83 87.72 402.4 90.3C400.97 92.88 399.13 96.72 397.5 100C395.87 103.28 394.25 106.42 392.6 110C390.95 113.58 389.18 117.75 387.6 121.5C386.02 125.25 384.03 130.22 383.1 132.5C382.17 134.78 382.37 134.3 382 135.2" stroke="#0a0a7a" stroke-width="1.7" stroke-dasharray="4.0 1.9"/>
<path d="M444.9 42.9C447.53 42.9 450.2 42.97 452.8 43.3C455.4 43.63 457.92 44.25 460.5 44.9C463.08 45.55 465.72 46.43 468.3 47.2C470.88 47.97 473.55 48.68 476 49.5C478.45 50.32 480.67 51.13 483 52.1C485.33 53.07 487.5 54.15 490 55.3C492.5 56.45 495.12 57.67 498 59C500.88 60.33 504.2 61.87 507.3 63.3" stroke="#0a0a7a" stroke-width="1.7" stroke-dasharray="4.0 1.9"/>
<path d="M444.9 42.9C446.27 42.9 447.68 43.17 449 43.5C450.32 43.83 451.55 44.23 452.8 44.9C454.05 45.57 455.22 46.53 456.5 47.5C457.78 48.47 459.33 49.63 460.5 50.7C461.67 51.77 462.6 52.8 463.5 53.9C464.4 55 465.07 56.03 465.9 57.3C466.73 58.57 467.65 60.05 468.5 61.5C469.35 62.95 470.08 64.32 471 66C471.92 67.68 472.97 69.7 474 71.6C475.03 73.5 476.15 75.59 477.2 77.4C478.25 79.21 479.12 80.38 480.3 82.46C481.48 84.55 482.97 87.27 484.3 89.9C485.63 92.53 486.97 95.3 488.3 98.23C489.63 101.16 490.97 104.24 492.3 107.47C493.63 110.71 494.97 114.09 496.3 117.64C497.63 121.19 499.13 125.41 500.3 128.76C501.47 132.11 502.3 134.75 503.3 137.74" stroke="#0a0a7a" stroke-width="1.7" stroke-dasharray="4.0 1.9"/>
</g>
<g clip-path="url(#cd)" fill="none" stroke-linejoin="round">
<path d="M382.5 199.6C385 199.27 387.08 198.97 390 198.6C392.92 198.23 396.67 197.87 400 197.4C403.33 196.93 407 196.3 410 195.8C413 195.3 415.5 194.8 418 194.4C420.5 194 422.17 193.75 425 193.4C427.83 193.05 431.68 192.57 435 192.3C438.32 192.03 441.6 191.8 444.9 191.8" stroke="#c81428" stroke-width="1.8"/>
<path d="M382.5 200.9C385 200.5 387.08 200.13 390 199.7C392.92 199.27 396.67 198.83 400 198.3C403.33 197.77 407 197.05 410 196.5C413 195.95 415.5 195.45 418 195C420.5 194.55 422.17 194.22 425 193.8C427.83 193.38 431.68 192.83 435 192.5C438.32 192.17 441.6 191.8 444.9 191.8" stroke="#c81428" stroke-width="1.8"/>
<path d="M444.9 191.7C443.27 191.7 441.65 192.32 440 192.9C438.35 193.48 436.62 194.33 435 195.2C433.38 196.07 431.97 197.03 430.3 198.1C428.63 199.17 426.74 200.35 424.96 201.6C423.19 202.85 421.49 204.15 419.66 205.6C417.83 207.05 415.75 208.75 413.98 210.3C412.2 211.85 410.66 213.33 409 214.9C407.34 216.47 405.67 218.07 404 219.7C402.33 221.33 400.83 222.77 399 224.7C397.17 226.63 395 228.95 393 231.3C391 233.65 388.67 236.7 387 238.8C385.33 240.9 384.08 242.52 383 243.9C381.92 245.28 381.33 246.03 380.5 247.1" stroke="#c81428" stroke-width="1.8"/>
<path d="M444.9 191.7C443.27 191.7 441.65 192.6 440 193.3C438.35 194 436.64 194.93 435 195.9C433.36 196.87 431.87 197.93 430.17 199.1C428.47 200.27 426.43 201.7 424.8 202.9C423.17 204.1 421.86 205.1 420.38 206.3C418.89 207.5 417.38 208.67 415.9 210.1C414.42 211.53 413.07 213.3 411.5 214.9C409.93 216.5 408.17 218.07 406.5 219.7C404.83 221.33 403.33 222.77 401.5 224.7C399.67 226.63 397.5 228.95 395.5 231.3C393.5 233.65 391.17 236.7 389.5 238.8C387.83 240.9 387 241.88 385.5 243.9C384 245.92 382.17 248.57 380.5 250.9" stroke="#c81428" stroke-width="1.8"/>
<path d="M444.9 205.5C443.27 205.5 441.65 205.47 440 205.7C438.35 205.93 436.6 206.37 435 206.9C433.4 207.43 432.07 207.83 430.4 208.9C428.73 209.97 426.62 211.72 425 213.3C423.38 214.88 422.2 216.57 420.7 218.4C419.2 220.23 417.62 222.03 416 224.3C414.38 226.57 412.5 229.75 411 232C409.5 234.25 408.28 235.87 407 237.8C405.72 239.73 404.73 241.02 403.3 243.6C401.87 246.18 400.03 250.02 398.4 253.3C396.77 256.58 395.15 259.72 393.5 263.3C391.85 266.88 390.08 271.05 388.5 274.8C386.92 278.55 384.93 283.52 384 285.8C383.07 288.08 383.27 287.6 382.9 288.5" stroke="#c81428" stroke-width="1.8"/>
<path d="M444.9 190.7C447.53 190.7 450.2 190.83 452.8 191.1C455.4 191.37 457.92 191.78 460.5 192.3C463.08 192.82 465.72 193.48 468.3 194.2C470.88 194.92 473.55 195.73 476 196.6C478.45 197.47 480.67 198.4 483 199.4C485.33 200.4 487.5 201.4 490 202.6C492.5 203.8 495.12 205.17 498 206.6C500.88 208.03 504.2 209.67 507.3 211.2" stroke="#c81428" stroke-width="1.8"/>
<path d="M444.9 190.7C446.27 190.7 447.65 191.03 449 191.4C450.35 191.77 451.67 192.32 453 192.9C454.33 193.48 455.75 194.23 457 194.9C458.25 195.57 458.62 195.92 460.5 196.9C462.38 197.88 465.72 199.7 468.3 200.8C470.88 201.9 473.55 202.52 476 203.5C478.45 204.48 480.67 205.58 483 206.7C485.33 207.82 487.5 208.97 490 210.2C492.5 211.43 495.12 212.68 498 214.1C500.88 215.52 504.2 217.17 507.3 218.7" stroke="#c81428" stroke-width="1.8"/>
<path d="M444.9 205.3C446.23 205.3 447.57 205.43 448.9 205.7C450.23 205.97 451.57 206.37 452.9 206.9C454.23 207.43 455.57 208.09 456.9 208.89C458.23 209.68 459.57 210.61 460.9 211.66C462.23 212.72 463.57 213.91 464.9 215.23C466.23 216.55 467.57 217.99 468.9 219.57C470.23 221.15 471.57 222.86 472.9 224.69C474.23 226.53 475.57 228.49 476.9 230.59C478.23 232.68 479.57 234.9 480.9 237.25C482.23 239.6 483.57 242.07 484.9 244.68C486.23 247.28 487.57 250.01 488.9 252.86C490.23 255.72 491.57 258.7 492.9 261.81C494.23 264.91 495.57 268.15 496.9 271.5C498.23 274.86 499.73 278.82 500.9 281.95C502.07 285.08 502.9 287.5 503.9 290.27" stroke="#c81428" stroke-width="1.8"/>
<path d="M444.9 195.6C442.27 195.6 439.48 195.82 437 195.9C434.52 195.98 432.5 195.98 430 196.1C427.5 196.22 425 196.37 422 196.6C419 196.83 415.67 197.17 412 197.5C408.33 197.83 403.67 198.22 400 198.6C396.33 198.98 392.92 199.4 390 199.8C387.08 200.2 385 200.6 382.5 201" stroke="#7a0a12" stroke-width="1.7" stroke-dasharray="4.0 1.9"/>
<path d="M444.9 196.1C443.27 196.1 441.66 196.3 440 196.6C438.34 196.9 436.65 197.32 434.93 197.9C433.2 198.48 431.16 199.33 429.65 200.1C428.14 200.87 427.12 201.63 425.85 202.5C424.58 203.37 423.29 204.3 422 205.3C420.71 206.3 420.05 206.9 418.1 208.5C416.15 210.1 412.43 213.03 410.3 214.9C408.17 216.77 406.97 218.07 405.3 219.7C403.63 221.33 402.13 222.77 400.3 224.7C398.47 226.63 396.3 228.95 394.3 231.3C392.3 233.65 389.97 236.7 388.3 238.8C386.63 240.9 385.6 242.15 384.3 243.9C383 245.65 381.77 247.5 380.5 249.3" stroke="#7a0a12" stroke-width="1.7" stroke-dasharray="4.0 1.9"/>
<path d="M444.9 196.1C443.27 196.1 441.4 196.35 440 196.6C438.6 196.85 437.58 197.13 436.5 197.6C435.42 198.07 434.58 198.58 433.5 199.4C432.42 200.22 431.17 201.42 430 202.5C428.83 203.58 427.67 204.73 426.5 205.9C425.33 207.07 424 208.18 423 209.5C422 210.82 421.28 212.42 420.5 213.8C419.72 215.18 419.02 216.42 418.3 217.8C417.58 219.18 416.88 220.77 416.2 222.1C415.52 223.43 415.22 224.15 414.2 225.8C413.18 227.45 411.45 230 410.1 232C408.75 234 407.38 235.87 406.1 237.8C404.82 239.73 403.83 241.02 402.4 243.6C400.97 246.18 399.13 250.02 397.5 253.3C395.87 256.58 394.25 259.72 392.6 263.3C390.95 266.88 389.18 271.05 387.6 274.8C386.02 278.55 384.03 283.52 383.1 285.8C382.17 288.08 382.37 287.6 382 288.5" stroke="#7a0a12" stroke-width="1.7" stroke-dasharray="4.0 1.9"/>
<path d="M444.9 195C447.53 195 450.2 195.07 452.8 195.4C455.4 195.73 457.92 196.35 460.5 197C463.08 197.65 465.72 198.53 468.3 199.3C470.88 200.07 473.55 200.78 476 201.6C478.45 202.42 480.67 203.23 483 204.2C485.33 205.17 487.5 206.25 490 207.4C492.5 208.55 495.12 209.77 498 211.1C500.88 212.43 504.2 213.97 507.3 215.4" stroke="#7a0a12" stroke-width="1.7" stroke-dasharray="4.0 1.9"/>
<path d="M444.9 195.6C446.27 195.6 447.82 195.92 449 196.2C450.18 196.48 451 196.83 452 197.3C453 197.77 454 198.3 455 199C456 199.7 456.97 200.57 458 201.5C459.03 202.43 460.2 203.55 461.2 204.6C462.2 205.65 462.97 206.48 464 207.8C465.03 209.12 466.4 210.92 467.4 212.5C468.4 214.08 469.07 215.57 470 217.3C470.93 219.03 471.92 220.93 473 222.9C474.08 224.87 475.28 226.71 476.5 229.1C477.72 231.49 479 234.65 480.3 237.25C481.6 239.84 482.97 242.07 484.3 244.68C485.63 247.28 486.97 250.01 488.3 252.86C489.63 255.72 490.97 258.7 492.3 261.81C493.63 264.91 494.97 268.15 496.3 271.5C497.63 274.86 499.13 278.82 500.3 281.95C501.47 285.08 502.3 287.5 503.3 290.27" stroke="#7a0a12" stroke-width="1.7" stroke-dasharray="4.0 1.9"/>
</g>
<rect x="54" y="6" width="249.5" height="129" fill="none" stroke="#000" stroke-width="1.6"/>
<rect x="54" y="159.1" width="249.5" height="129.2" fill="none" stroke="#000" stroke-width="1.6"/>
<rect x="382.5" y="6" width="124.8" height="129" fill="none" stroke="#000" stroke-width="1.6"/>
<rect x="382.5" y="159.1" width="124.8" height="129.2" fill="none" stroke="#000" stroke-width="1.6"/>
<line x1="51.1" y1="135" x2="54" y2="135" stroke="#000" stroke-width="1.15"/>
<line x1="49.8" y1="129" x2="54" y2="129" stroke="#000" stroke-width="1.15"/>
<line x1="51.1" y1="123" x2="54" y2="123" stroke="#000" stroke-width="1.15"/>
<line x1="51.1" y1="117" x2="54" y2="117" stroke="#000" stroke-width="1.15"/>
<line x1="51.1" y1="111" x2="54" y2="111" stroke="#000" stroke-width="1.15"/>
<line x1="51.1" y1="105" x2="54" y2="105" stroke="#000" stroke-width="1.15"/>
<line x1="49.8" y1="99" x2="54" y2="99" stroke="#000" stroke-width="1.15"/>
<line x1="51.1" y1="93" x2="54" y2="93" stroke="#000" stroke-width="1.15"/>
<line x1="51.1" y1="87" x2="54" y2="87" stroke="#000" stroke-width="1.15"/>
<line x1="51.1" y1="81" x2="54" y2="81" stroke="#000" stroke-width="1.15"/>
<line x1="51.1" y1="75" x2="54" y2="75" stroke="#000" stroke-width="1.15"/>
<line x1="49.8" y1="69" x2="54" y2="69" stroke="#000" stroke-width="1.15"/>
<line x1="51.1" y1="63" x2="54" y2="63" stroke="#000" stroke-width="1.15"/>
<line x1="51.1" y1="57" x2="54" y2="57" stroke="#000" stroke-width="1.15"/>
<line x1="51.1" y1="51" x2="54" y2="51" stroke="#000" stroke-width="1.15"/>
<line x1="51.1" y1="45" x2="54" y2="45" stroke="#000" stroke-width="1.15"/>
<line x1="49.8" y1="39" x2="54" y2="39" stroke="#000" stroke-width="1.15"/>
<line x1="51.1" y1="33" x2="54" y2="33" stroke="#000" stroke-width="1.15"/>
<line x1="51.1" y1="27" x2="54" y2="27" stroke="#000" stroke-width="1.15"/>
<line x1="51.1" y1="21" x2="54" y2="21" stroke="#000" stroke-width="1.15"/>
<line x1="51.1" y1="15" x2="54" y2="15" stroke="#000" stroke-width="1.15"/>
<line x1="49.8" y1="9" x2="54" y2="9" stroke="#000" stroke-width="1.15"/>
<text x="45.7" y="12.6" font-size="10" text-anchor="end">5</text>
<text x="45.7" y="42.6" font-size="10" text-anchor="end">0</text>
<text x="45.7" y="72.6" font-size="10" text-anchor="end">−5</text>
<text x="45.7" y="102.6" font-size="10" text-anchor="end">−10</text>
<text x="45.7" y="132.6" font-size="10" text-anchor="end">−15</text>
<line x1="51.1" y1="288.3" x2="54" y2="288.3" stroke="#000" stroke-width="1.15"/>
<line x1="49.8" y1="282.56" x2="54" y2="282.56" stroke="#000" stroke-width="1.15"/>
<line x1="51.1" y1="276.82" x2="54" y2="276.82" stroke="#000" stroke-width="1.15"/>
<line x1="51.1" y1="271.07" x2="54" y2="271.07" stroke="#000" stroke-width="1.15"/>
<line x1="51.1" y1="265.33" x2="54" y2="265.33" stroke="#000" stroke-width="1.15"/>
<line x1="51.1" y1="259.59" x2="54" y2="259.59" stroke="#000" stroke-width="1.15"/>
<line x1="49.8" y1="253.85" x2="54" y2="253.85" stroke="#000" stroke-width="1.15"/>
<line x1="51.1" y1="248.1" x2="54" y2="248.1" stroke="#000" stroke-width="1.15"/>
<line x1="51.1" y1="242.36" x2="54" y2="242.36" stroke="#000" stroke-width="1.15"/>
<line x1="51.1" y1="236.62" x2="54" y2="236.62" stroke="#000" stroke-width="1.15"/>
<line x1="51.1" y1="230.88" x2="54" y2="230.88" stroke="#000" stroke-width="1.15"/>
<line x1="49.8" y1="225.14" x2="54" y2="225.14" stroke="#000" stroke-width="1.15"/>
<line x1="51.1" y1="219.39" x2="54" y2="219.39" stroke="#000" stroke-width="1.15"/>
<line x1="51.1" y1="213.65" x2="54" y2="213.65" stroke="#000" stroke-width="1.15"/>
<line x1="51.1" y1="207.91" x2="54" y2="207.91" stroke="#000" stroke-width="1.15"/>
<line x1="51.1" y1="202.17" x2="54" y2="202.17" stroke="#000" stroke-width="1.15"/>
<line x1="49.8" y1="196.42" x2="54" y2="196.42" stroke="#000" stroke-width="1.15"/>
<line x1="51.1" y1="190.68" x2="54" y2="190.68" stroke="#000" stroke-width="1.15"/>
<line x1="51.1" y1="184.94" x2="54" y2="184.94" stroke="#000" stroke-width="1.15"/>
<line x1="51.1" y1="179.2" x2="54" y2="179.2" stroke="#000" stroke-width="1.15"/>
<line x1="51.1" y1="173.46" x2="54" y2="173.46" stroke="#000" stroke-width="1.15"/>
<line x1="49.8" y1="167.71" x2="54" y2="167.71" stroke="#000" stroke-width="1.15"/>
<line x1="51.1" y1="161.97" x2="54" y2="161.97" stroke="#000" stroke-width="1.15"/>
<text x="45.7" y="171.31" font-size="10" text-anchor="end">5</text>
<text x="45.7" y="200.02" font-size="10" text-anchor="end">0</text>
<text x="45.7" y="228.74" font-size="10" text-anchor="end">−5</text>
<text x="45.7" y="257.45" font-size="10" text-anchor="end">−10</text>
<text x="45.7" y="286.16" font-size="10" text-anchor="end">−15</text>
<line x1="378.3" y1="135" x2="382.5" y2="135" stroke="#000" stroke-width="1.15"/>
<line x1="379.6" y1="128.55" x2="382.5" y2="128.55" stroke="#000" stroke-width="1.15"/>
<line x1="379.6" y1="122.1" x2="382.5" y2="122.1" stroke="#000" stroke-width="1.15"/>
<line x1="379.6" y1="115.65" x2="382.5" y2="115.65" stroke="#000" stroke-width="1.15"/>
<line x1="379.6" y1="109.2" x2="382.5" y2="109.2" stroke="#000" stroke-width="1.15"/>
<line x1="378.3" y1="102.75" x2="382.5" y2="102.75" stroke="#000" stroke-width="1.15"/>
<line x1="379.6" y1="96.3" x2="382.5" y2="96.3" stroke="#000" stroke-width="1.15"/>
<line x1="379.6" y1="89.85" x2="382.5" y2="89.85" stroke="#000" stroke-width="1.15"/>
<line x1="379.6" y1="83.4" x2="382.5" y2="83.4" stroke="#000" stroke-width="1.15"/>
<line x1="379.6" y1="76.95" x2="382.5" y2="76.95" stroke="#000" stroke-width="1.15"/>
<line x1="378.3" y1="70.5" x2="382.5" y2="70.5" stroke="#000" stroke-width="1.15"/>
<line x1="379.6" y1="64.05" x2="382.5" y2="64.05" stroke="#000" stroke-width="1.15"/>
<line x1="379.6" y1="57.6" x2="382.5" y2="57.6" stroke="#000" stroke-width="1.15"/>
<line x1="379.6" y1="51.15" x2="382.5" y2="51.15" stroke="#000" stroke-width="1.15"/>
<line x1="379.6" y1="44.7" x2="382.5" y2="44.7" stroke="#000" stroke-width="1.15"/>
<line x1="378.3" y1="38.25" x2="382.5" y2="38.25" stroke="#000" stroke-width="1.15"/>
<line x1="379.6" y1="31.8" x2="382.5" y2="31.8" stroke="#000" stroke-width="1.15"/>
<line x1="379.6" y1="25.35" x2="382.5" y2="25.35" stroke="#000" stroke-width="1.15"/>
<line x1="379.6" y1="18.9" x2="382.5" y2="18.9" stroke="#000" stroke-width="1.15"/>
<line x1="379.6" y1="12.45" x2="382.5" y2="12.45" stroke="#000" stroke-width="1.15"/>
<line x1="378.3" y1="6" x2="382.5" y2="6" stroke="#000" stroke-width="1.15"/>
<text x="374.2" y="9.6" font-size="10" text-anchor="end">0.5</text>
<text x="374.2" y="41.85" font-size="10" text-anchor="end">0.0</text>
<text x="374.2" y="74.1" font-size="10" text-anchor="end">−0.5</text>
<text x="374.2" y="106.35" font-size="10" text-anchor="end">−1.0</text>
<text x="374.2" y="138.6" font-size="10" text-anchor="end">−1.5</text>
<line x1="378.3" y1="288.3" x2="382.5" y2="288.3" stroke="#000" stroke-width="1.15"/>
<line x1="379.6" y1="281.84" x2="382.5" y2="281.84" stroke="#000" stroke-width="1.15"/>
<line x1="379.6" y1="275.38" x2="382.5" y2="275.38" stroke="#000" stroke-width="1.15"/>
<line x1="379.6" y1="268.92" x2="382.5" y2="268.92" stroke="#000" stroke-width="1.15"/>
<line x1="379.6" y1="262.46" x2="382.5" y2="262.46" stroke="#000" stroke-width="1.15"/>
<line x1="378.3" y1="256" x2="382.5" y2="256" stroke="#000" stroke-width="1.15"/>
<line x1="379.6" y1="249.54" x2="382.5" y2="249.54" stroke="#000" stroke-width="1.15"/>
<line x1="379.6" y1="243.08" x2="382.5" y2="243.08" stroke="#000" stroke-width="1.15"/>
<line x1="379.6" y1="236.62" x2="382.5" y2="236.62" stroke="#000" stroke-width="1.15"/>
<line x1="379.6" y1="230.16" x2="382.5" y2="230.16" stroke="#000" stroke-width="1.15"/>
<line x1="378.3" y1="223.7" x2="382.5" y2="223.7" stroke="#000" stroke-width="1.15"/>
<line x1="379.6" y1="217.24" x2="382.5" y2="217.24" stroke="#000" stroke-width="1.15"/>
<line x1="379.6" y1="210.78" x2="382.5" y2="210.78" stroke="#000" stroke-width="1.15"/>
<line x1="379.6" y1="204.32" x2="382.5" y2="204.32" stroke="#000" stroke-width="1.15"/>
<line x1="379.6" y1="197.86" x2="382.5" y2="197.86" stroke="#000" stroke-width="1.15"/>
<line x1="378.3" y1="191.4" x2="382.5" y2="191.4" stroke="#000" stroke-width="1.15"/>
<line x1="379.6" y1="184.94" x2="382.5" y2="184.94" stroke="#000" stroke-width="1.15"/>
<line x1="379.6" y1="178.48" x2="382.5" y2="178.48" stroke="#000" stroke-width="1.15"/>
<line x1="379.6" y1="172.02" x2="382.5" y2="172.02" stroke="#000" stroke-width="1.15"/>
<line x1="379.6" y1="165.56" x2="382.5" y2="165.56" stroke="#000" stroke-width="1.15"/>
<line x1="378.3" y1="159.1" x2="382.5" y2="159.1" stroke="#000" stroke-width="1.15"/>
<text x="374.2" y="162.7" font-size="10" text-anchor="end">0.5</text>
<text x="374.2" y="195" font-size="10" text-anchor="end">0.0</text>
<text x="374.2" y="227.3" font-size="10" text-anchor="end">−0.5</text>
<text x="374.2" y="259.6" font-size="10" text-anchor="end">−1.0</text>
<text x="374.2" y="291.9" font-size="10" text-anchor="end">−1.5</text>
<text x="15.2" y="71" font-size="10" text-anchor="middle" transform="rotate(-90 15.2 71)">Energy (eV)</text>
<text x="15.2" y="224" font-size="10" text-anchor="middle" transform="rotate(-90 15.2 224)">Energy (eV)</text>
<text x="339.9" y="71" font-size="10" text-anchor="middle" transform="rotate(-90 339.9 71)">Energy (eV)</text>
<text x="339.9" y="224" font-size="10" text-anchor="middle" transform="rotate(-90 339.9 224)">Energy (eV)</text>
<text x="5.2" y="14.4" font-size="11">(a)</text>
<text x="329.3" y="14.2" font-size="11">(b)</text>
<text x="5.2" y="167.8" font-size="11">(c)</text>
<text x="329.3" y="167.4" font-size="11">(d)</text>
<line x1="54" y1="288.3" x2="54" y2="292.3" stroke="#000" stroke-width="1"/>
<text x="54" y="304.8" font-size="10" text-anchor="middle">Γ</text>
<line x1="92.7" y1="288.3" x2="92.7" y2="292.3" stroke="#000" stroke-width="1"/>
<text x="92.7" y="304.8" font-size="10" text-anchor="middle">X</text>
<line x1="112.3" y1="288.3" x2="112.3" y2="292.3" stroke="#000" stroke-width="1"/>
<text x="112.3" y="304.8" font-size="10" text-anchor="middle">W</text>
<line x1="125.8" y1="288.3" x2="125.8" y2="292.3" stroke="#000" stroke-width="1"/>
<text x="125.8" y="304.8" font-size="10" text-anchor="middle">K</text>
<line x1="167.1" y1="288.3" x2="167.1" y2="292.3" stroke="#000" stroke-width="1"/>
<text x="167.1" y="304.8" font-size="10" text-anchor="middle">Γ</text>
<line x1="201.1" y1="288.3" x2="201.1" y2="292.3" stroke="#000" stroke-width="1"/>
<text x="201.1" y="304.8" font-size="10" text-anchor="middle">L</text>
<line x1="224.8" y1="288.3" x2="224.8" y2="292.3" stroke="#000" stroke-width="1"/>
<text x="224.8" y="304.8" font-size="10" text-anchor="middle">U</text>
<line x1="238.5" y1="288.3" x2="238.5" y2="292.3" stroke="#000" stroke-width="1"/>
<text x="238.5" y="304.8" font-size="10" text-anchor="middle">W</text>
<line x1="266.1" y1="288.3" x2="266.1" y2="292.3" stroke="#000" stroke-width="1"/>
<text x="266.1" y="304.8" font-size="10" text-anchor="middle">L</text>
<line x1="289.9" y1="288.3" x2="289.9" y2="292.3" stroke="#000" stroke-width="1"/>
<text x="289.9" y="304.8" font-size="10" text-anchor="middle">K/U</text>
<line x1="303.5" y1="288.3" x2="303.5" y2="292.3" stroke="#000" stroke-width="1"/>
<text x="303.5" y="304.8" font-size="10" text-anchor="middle">X</text>
<line x1="382.5" y1="288.3" x2="382.5" y2="292.3" stroke="#000" stroke-width="1"/>
<line x1="444.9" y1="288.3" x2="444.9" y2="292.3" stroke="#000" stroke-width="1"/>
<line x1="507.3" y1="288.3" x2="507.3" y2="292.3" stroke="#000" stroke-width="1"/>
<text x="381.6" y="304.8" font-size="10" text-anchor="middle"><tspan font-style="italic">K</tspan> ←</text>
<text x="444.9" y="304.8" font-size="10" text-anchor="middle">Γ</text>
<text x="509.0" y="304.8" font-size="10" text-anchor="middle">→ <tspan font-style="italic">L</tspan></text>
<rect x="405.5" y="100.8" width="78.8" height="29.6" rx="2.4" ry="2.4" fill="#fff" stroke="#000" stroke-width="1.4"/>
<line x1="409.6" y1="108.1" x2="435.6" y2="108.1" stroke="#0a0a7a" stroke-width="2.2" stroke-dasharray="6.6 2.7"/>
<line x1="409.6" y1="121.7" x2="435.6" y2="121.7" stroke="#1a48c8" stroke-width="2.2"/>
<text x="441.2" y="111.4" font-size="8.9">LDA</text>
<text x="441.2" y="124.9" font-size="8.9">LDA+SO</text>
<rect x="405.5" y="254.1" width="78.8" height="29.6" rx="2.4" ry="2.4" fill="#fff" stroke="#000" stroke-width="1.4"/>
<line x1="409.6" y1="261.4" x2="435.6" y2="261.4" stroke="#7a0a12" stroke-width="2.2" stroke-dasharray="6.6 2.7"/>
<line x1="409.6" y1="275" x2="435.6" y2="275" stroke="#c81428" stroke-width="2.2"/>
<text x="441.2" y="264.7" font-size="8.9">GW</text>
<text x="441.2" y="278.2" font-size="8.9">GW+SO</text>
<text class="an" x="168.3" y="155.3" font-size="7"><tspan>Γ</tspan><tspan font-size="5" dy="1.5">6</tspan><tspan font-size="5" font-style="italic">c</tspan><tspan dy="-1.5" dx="2.2">Γ</tspan><tspan font-size="5" dy="1.5">8</tspan><tspan font-size="5" font-style="italic">c</tspan></text>
<line x1="179.6" y1="160.2" x2="168.7" y2="169.4" stroke="#000" stroke-width="2.3" stroke-linecap="round"/>
<text class="an" x="168.3" y="179.9" font-size="6.6"><tspan>Γ</tspan><tspan font-size="4.75" dy="1.6">7</tspan><tspan font-size="4.75" font-style="italic">c</tspan></text>
<text class="an" x="168.3" y="191" font-size="6.6"><tspan>Γ</tspan><tspan font-size="4.75" dy="1.6">8</tspan><tspan font-size="4.75" font-style="italic">v</tspan></text>
<text class="an" x="168.3" y="207.6" font-size="6.6"><tspan>Γ</tspan><tspan font-size="4.75" dy="1.6">7</tspan><tspan font-size="4.75" font-style="italic">v</tspan></text>
<text class="an" x="167.9" y="279.6" font-size="6.6"><tspan>Γ</tspan><tspan font-size="4.75" dy="1.6">6</tspan><tspan font-size="4.75" font-style="italic">v</tspan></text>
<text class="an" x="254" y="155.5" font-size="7.3"><tspan font-style="italic">L</tspan><tspan font-size="5.1" dy="1.5">4</tspan><tspan font-size="5.1" font-style="italic">c</tspan><tspan dy="-1.5">,&#8201;</tspan><tspan font-style="italic">L</tspan><tspan font-size="5.1" dy="1.5">5</tspan><tspan font-size="5.1" font-style="italic">c</tspan></text>
<text class="an" x="254.2" y="167.9" font-size="7.3"><tspan font-style="italic">L</tspan><tspan font-size="5.1" dy="1.6">6</tspan><tspan font-size="5.1" font-style="italic">c</tspan><tspan font-size="5.1">,&#8202;2</tspan></text>
<text class="an" x="254.2" y="181.2" font-size="7.3"><tspan font-style="italic">L</tspan><tspan font-size="5.1" dy="1.6">6</tspan><tspan font-size="5.1" font-style="italic">c</tspan><tspan font-size="5.1">,&#8202;1</tspan></text>
<text class="an" x="254" y="203.6" font-size="7.3"><tspan font-style="italic">L</tspan><tspan font-size="5.1" dy="1.5">4</tspan><tspan font-size="5.1" font-style="italic">v</tspan><tspan dy="-1.5">,&#8201;</tspan><tspan font-style="italic">L</tspan><tspan font-size="5.1" dy="1.5">5</tspan><tspan font-size="5.1" font-style="italic">v</tspan></text>
<text class="an" x="254.2" y="215.4" font-size="7.3"><tspan font-style="italic">L</tspan><tspan font-size="5.1" dy="1.6">6</tspan><tspan font-size="5.1" font-style="italic">v</tspan><tspan font-size="5.1">,&#8202;3</tspan></text>
<text class="an" x="254.2" y="253.2" font-size="7.3"><tspan font-style="italic">L</tspan><tspan font-size="5.1" dy="1.6">6</tspan><tspan font-size="5.1" font-style="italic">v</tspan><tspan font-size="5.1">,&#8202;2</tspan></text>
<text class="an" x="254.2" y="275.8" font-size="7.3"><tspan font-style="italic">L</tspan><tspan font-size="5.1" dy="1.6">6</tspan><tspan font-size="5.1" font-style="italic">v</tspan><tspan font-size="5.1">,&#8202;1</tspan></text>
<text class="an" x="304.6" y="178.6" font-size="7.4"><tspan font-style="italic">X</tspan><tspan font-size="5.2" dy="1.6">7</tspan><tspan font-size="5.2" font-style="italic">c</tspan></text>
<text class="an" x="304.6" y="190" font-size="7.4"><tspan font-style="italic">X</tspan><tspan font-size="5.2" dy="1.6">6</tspan><tspan font-size="5.2" font-style="italic">c</tspan></text>
<text class="an" x="304.6" y="216" font-size="7.4"><tspan font-style="italic">X</tspan><tspan font-size="5.2" dy="1.6">7</tspan><tspan font-size="5.2" font-style="italic">v</tspan><tspan font-size="5.2">,&#8202;2</tspan></text>
<text class="an" x="304.6" y="228.4" font-size="7.4"><tspan font-style="italic">X</tspan><tspan font-size="5.2" dy="1.6">6</tspan><tspan font-size="5.2" font-style="italic">v</tspan><tspan font-size="5.2">,&#8202;2</tspan></text>
<text class="an" x="304.6" y="243.6" font-size="7.4"><tspan font-style="italic">X</tspan><tspan font-size="5.2" dy="1.6">7</tspan><tspan font-size="5.2" font-style="italic">v</tspan><tspan font-size="5.2">,&#8202;1</tspan></text>
<text class="an" x="304.6" y="259.2" font-size="7.4"><tspan font-style="italic">X</tspan><tspan font-size="5.2" dy="1.6">6</tspan><tspan font-size="5.2" font-style="italic">v</tspan><tspan font-size="5.2">,&#8202;1</tspan></text>
<text x="81.5" y="193.2" font-size="7.8" text-anchor="middle">Δ</text>
<text class="an" x="446.2" y="186" font-size="6.8"><tspan>Γ</tspan><tspan font-size="5.3" dy="1.6">8</tspan><tspan font-size="5.3" font-style="italic">v</tspan></text>
<text class="an" x="446.2" y="213.2" font-size="6.8"><tspan>Γ</tspan><tspan font-size="5.3" dy="1.6">7</tspan><tspan font-size="5.3" font-style="italic">v</tspan></text>
</svg>
</body></html>
